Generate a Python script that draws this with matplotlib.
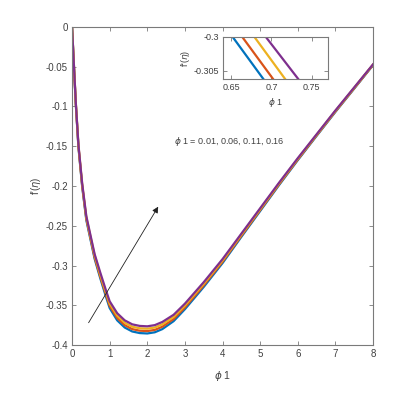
import numpy as np
import matplotlib
matplotlib.use('Agg')
import matplotlib.pyplot as plt

plt.rcParams['font.family'] = ['Liberation Sans', 'DejaVu Sans']
plt.rcParams['axes.unicode_minus'] = False

# ------------------------------- data --------------------------------
phi = [0, 0.05, 0.1, 0.17, 0.27, 0.38, 0.5, 0.6, 0.75, 0.9, 1.0, 1.2, 1.4, 1.6, 1.8,
       2.0, 2.2, 2.4, 2.7, 3.0, 3.5, 4.0, 4.5, 5.0, 5.5, 6.0, 6.5, 7.0, 7.5, 8.0]

f_001 = [0, -0.049, -0.097, -0.151, -0.201, -0.243, -0.2695, -0.2915, -0.3160, -0.339,
         -0.3535, -0.369, -0.378, -0.383, -0.385, -0.3855, -0.384, -0.380, -0.370, -0.355,
         -0.327, -0.297, -0.264, -0.2315, -0.199, -0.1675, -0.137, -0.1068, -0.0775, -0.048]
f_006 = [0, -0.0487, -0.0963, -0.150, -0.1997, -0.2413, -0.2677, -0.2896, -0.314, -0.3363,
         -0.3507, -0.366, -0.375, -0.380, -0.382, -0.3825, -0.381, -0.377, -0.3673, -0.3527,
         -0.325, -0.2953, -0.2627, -0.2303, -0.198, -0.1667, -0.1363, -0.1062, -0.077, -0.0477]
f_011 = [0, -0.0483, -0.0957, -0.149, -0.1983, -0.2397, -0.2658, -0.2871, -0.3116, -0.3337,
         -0.3478, -0.363, -0.372, -0.377, -0.379, -0.3795, -0.378, -0.374, -0.3647, -0.3503,
         -0.323, -0.2937, -0.2613, -0.2292, -0.197, -0.1658, -0.1357, -0.1056, -0.0765, -0.0473]
f_016 = [0, -0.048, -0.095, -0.148, -0.197, -0.238, -0.264, -0.2856, -0.3088, -0.331,
         -0.345, -0.360, -0.369, -0.374, -0.376, -0.3765, -0.375, -0.371, -0.362, -0.348,
         -0.321, -0.292, -0.260, -0.228, -0.196, -0.165, -0.135, -0.105, -0.076, -0.047]

series = [f_001, f_006, f_011, f_016]
colors = ['#0072BD', '#D95319', '#EDB120', '#7E2F8E']

xticks = [0, 1, 2, 3, 4, 5, 6, 7, 8]
yticks = [0, -0.05, -0.1, -0.15, -0.2, -0.25, -0.3, -0.35, -0.4]
ytick_labels = ['0', '-0.05', '-0.1', '-0.15', '-0.2', '-0.25', '-0.3', '-0.35', '-0.4']

in_xticks = [0.65, 0.7, 0.75]
in_xtick_labels = ['0.65', '0.7', '0.75']
in_yticks = [-0.3, -0.305]
in_ytick_labels = ['-0.3', '-0.305']

txt_col = '#404040'
spine_col = '#7a7a7a'


def style(ax, fs):
    for s in ax.spines.values():
        s.set_color(spine_col)
        s.set_linewidth(0.8)
    ax.tick_params(direction='in', top=True, right=True, colors=spine_col,
                   labelcolor=txt_col, labelsize=fs, length=3, width=0.6, pad=3)


# ------------------------------- plot --------------------------------
fig = plt.figure(figsize=(4.14, 4.0), dpi=100)
ax = fig.add_axes([0.174, 0.1375, 0.727, 0.795])

for f, c in zip(series, colors):
    ax.plot(phi, f, color=c, linewidth=1.6)

ax.set_xlim(0, 8)
ax.set_ylim(-0.4, 0)
ax.set_xticks(xticks)
ax.set_xticklabels([str(t) for t in xticks])
ax.set_yticks(yticks)
ax.set_yticklabels(ytick_labels)
style(ax, 7)
ax.set_xlabel(r'$\phi$ 1', color=txt_col, fontsize=7.5, labelpad=7)
ax.set_ylabel(r"f'($\eta$)", color=txt_col, fontsize=7, labelpad=2)

ax.annotate('', xy=(2.29, -0.226), xytext=(0.44, -0.372),
            arrowprops=dict(arrowstyle='-|>', color='#202020', lw=0.6,
                            mutation_scale=9, shrinkA=0, shrinkB=0))
ax.text(2.7, -0.144, r'$\phi$ 1 = 0.01, 0.06, 0.11, 0.16', fontsize=6.5,
        color=txt_col, va='center', ha='left')

# inset
axi = fig.add_axes([0.5386, 0.8025, 0.2536, 0.105])
for f, c in zip(series, colors):
    axi.plot(phi, f, color=c, linewidth=1.6)
axi.set_xlim(0.64, 0.77)
axi.set_ylim(-0.3062, -0.3)
axi.set_xticks(in_xticks)
axi.set_xticklabels(in_xtick_labels)
axi.set_yticks(in_yticks)
axi.set_yticklabels(in_ytick_labels)
style(axi, 6.5)
axi.set_xlabel(r'$\phi$ 1', color=txt_col, fontsize=6.5, labelpad=3)
axi.set_ylabel(r"f'($\eta$)", color=txt_col, fontsize=6.5, labelpad=1)

fig.savefig('out.png', dpi=100)
